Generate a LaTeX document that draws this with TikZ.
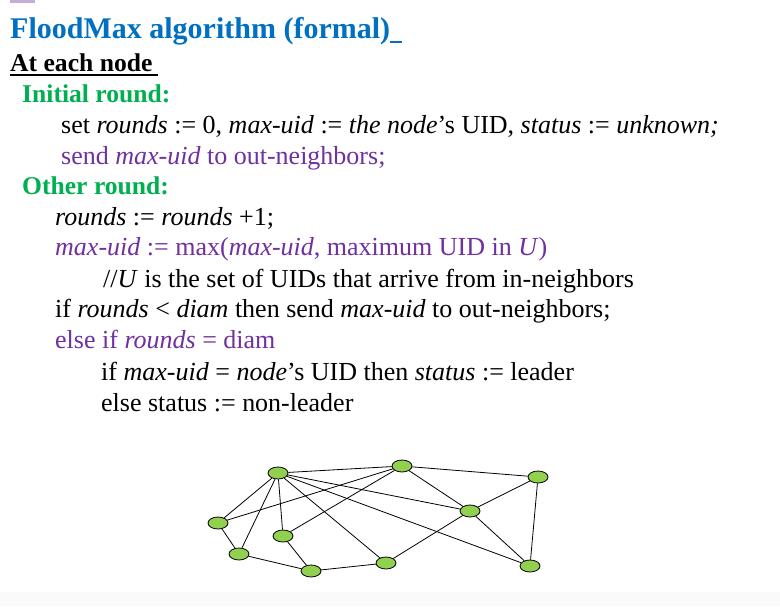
\documentclass[tikz,border=0pt]{standalone}
\usepackage{fontspec}
\setmainfont{Liberation Serif}
\usetikzlibrary{calc,shapes.geometric}
\definecolor{tblue}{RGB}{0,112,192}
\definecolor{tgreen}{RGB}{0,176,80}
\definecolor{tpurple}{RGB}{112,48,160}
\definecolor{ngreen}{RGB}{146,208,80}
\begin{document}
\begin{tikzpicture}[x=1pt,y=-1pt,
  txt/.style={anchor=base west,inner sep=0pt,font=\fontsize{26}{30}\selectfont},
  hd/.style={anchor=base west,inner sep=0pt,font=\fontsize{25.6}{30}\selectfont\bfseries},
  gn/.style={ellipse,draw=black,fill=ngreen,minimum width=20pt,minimum height=12pt,inner sep=0pt,line width=0.8pt},
  ed/.style={line width=0.8pt}]
\useasboundingbox (0,0) rectangle (780,606);
\fill[white] (0,0) rectangle (780,606);
\fill[black!2] (0,592) rectangle (780,606);
\fill[tpurple!40] (10,0) rectangle (35,3);
\node[txt,font=\fontsize{30}{34}\selectfont\bfseries,text=tblue] (t) at (10,38) {FloodMax algorithm (formal)};
\draw[tblue,line width=1.2pt] ($(t.base east)+(0,4)$) -- ++(12,0);
\node[hd] (a) at (10,71) {At each node};
\draw[line width=1.2pt] ($(a.base west)+(0,4)$) -- ($(a.base east)+(5,4)$);
\node[hd,text=tgreen] (i) at (22,102) {Initial round:};
\node[txt] (l1) at (61,133) {set \textit{rounds} := 0, \textit{max-uid} := \textit{the node}'s UID, \textit{status} := \textit{unknown;}};
\node[txt,text=tpurple] (l2) at (61,164) {send \textit{max-uid} to out-neighbors;};
\node[hd,text=tgreen] (o) at (22,194) {Other round:};
\node[txt] (l3) at (55,225) {\textit{rounds} := \textit{rounds} +1;};
\node[txt,text=tpurple] (l4) at (55,255) {\textit{max-uid} := max(\textit{max-uid}, maximum UID in \textit{U})};
\node[txt] (l5) at (103,287) {//\textit{U} is the set of UIDs that arrive from in-neighbors};
\node[txt] (l6) at (55,317) {if \textit{rounds} < \textit{diam} then send \textit{max-uid} to out-neighbors;};
\node[txt,text=tpurple] (l7) at (55,348) {else if \textit{rounds} = diam};
\node[txt] (l8) at (101,380) {if \textit{max-uid} = \textit{node}'s UID then \textit{status} := leader};
\node[txt] (l9) at (101,411) {else status := non-leader};
\node[gn] (A) at (278,473) {};
\node[gn] (B) at (402,466) {};
\node[gn] (C) at (538,477) {};
\node[gn] (D) at (470,511) {};
\node[gn] (E) at (218,523) {};
\node[gn] (F) at (283,536) {};
\node[gn] (G) at (239,554) {};
\node[gn] (H) at (311,571) {};
\node[gn] (I) at (386,563) {};
\node[gn] (J) at (530,566) {};
\foreach \u/\v in {A/B,B/C,A/E,A/G,A/F,A/D,A/I,A/J,B/E,B/F,B/D,C/D,C/J,D/I,D/J,E/G,G/H,F/H,H/I}
  \draw[ed] (\u) -- (\v);
\end{tikzpicture}
\end{document}
